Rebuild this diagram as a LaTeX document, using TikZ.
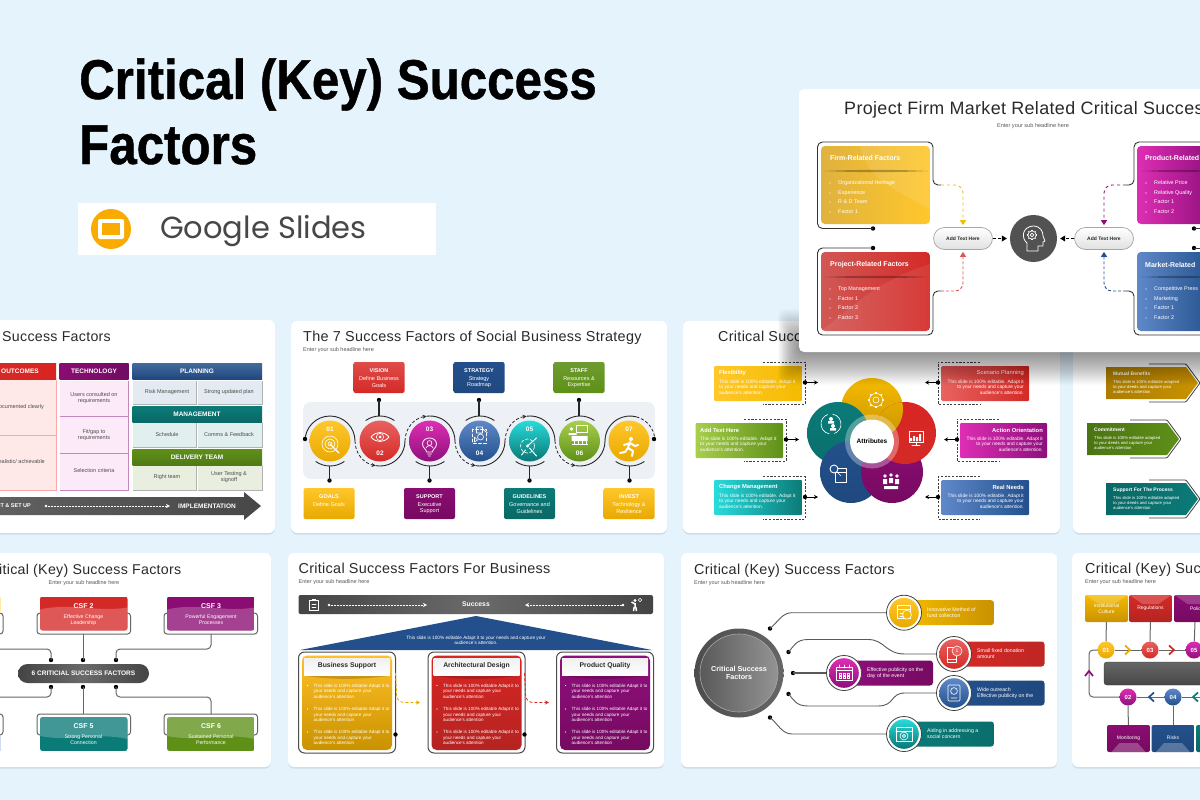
\documentclass[tikz,border=0pt]{standalone}
\usepackage{fontspec}
\setmainfont{Liberation Sans}
\newfontfamily\ttlfont[LetterSpace=2]{Liberation Sans}
\newfontfamily\hfont[FakeStretch=0.88,FakeBold=0.8]{Liberation Sans}
\newfontfamily\gfont{Poppins}
\usetikzlibrary{arrows.meta}
\newcounter{tc}
\definecolor{bgc}{HTML}{E4F3FC}
\definecolor{ink}{HTML}{2A2A2A}
\definecolor{edge}{HTML}{C9DCE8}
\definecolor{yelA}{HTML}{FFC72C}\definecolor{yelB}{HTML}{E8A900}
\definecolor{redA}{HTML}{E8625F}\definecolor{redB}{HTML}{D42A27}
\definecolor{magA}{HTML}{DE2EB4}\definecolor{magB}{HTML}{8E0F7C}
\definecolor{bluA}{HTML}{5F88C8}\definecolor{bluB}{HTML}{23508C}
\definecolor{cyaA}{HTML}{28DCDC}\definecolor{cyaB}{HTML}{0A7674}
\definecolor{grnA}{HTML}{A8CE4C}\definecolor{grnB}{HTML}{5E9018}
\definecolor{purp}{HTML}{8B0C72}
\definecolor{teal2}{HTML}{0B7B78}
\definecolor{gldA}{HTML}{F5BB00}\definecolor{gldB}{HTML}{C99200}
\definecolor{grA}{HTML}{6A6A6A}\definecolor{grB}{HTML}{444444}
\definecolor{gslide}{HTML}{F9AB00}
\definecolor{firmL}{HTML}{E0B23E}
\tikzset{
 wht/.style={text=white},
 lft/.style={anchor=west,align=left},
 rgt/.style={anchor=east,align=right},
 bas/.style={anchor=base west,align=left},
 drk/.style={text=ink},
 sub/.style={text=black!65},
 iconst/.style={draw=white,line width=.6pt,line cap=round,line join=round},
 outl/.style={draw=black!80,line width=.9pt,rounded corners=5pt},
 tip/.style={-{Triangle[length=5pt,width=6pt]}},
 smtip/.style={-{Stealth[length=4pt,width=4pt]}},
 pill/.style={rectangle,rounded corners=11pt,minimum width=59pt,minimum height=22pt,inner sep=0pt,top color=white,bottom color=black!12,draw=black!35,line width=.7pt,font=\fontsize{5}{6}\selectfont\bfseries,text=ink},
 disc/.style={circle,inner sep=0pt,minimum size=41pt},
 tag/.style={rectangle,rounded corners=2pt,inner sep=0pt},
 ringc/.style={circle,inner sep=0pt,minimum size=35pt,draw=black!75,line width=.8pt,fill=white},
 numd/.style={circle,inner sep=0pt,minimum size=17pt,text=white,font=\fontsize{6}{6}\selectfont\bfseries},
 conn/.style={draw=black!60,line width=1pt,rounded corners=4pt},
}
\newcommand{\tx}[5]{\stepcounter{tc}\node[inner sep=0pt,align=center,font=\linespread{1.18}\fontsize{#3}{#3}\selectfont,#4] (t\arabic{tc}) at (#1,#2) {#5};}
\newcommand{\bu}[5]{\fill[white] (#1,#2) circle (.7pt);\tx{#3}{#2}{#4}{wht,lft}{#5}}
\newcommand{\dotat}[3]{\coordinate (#1) at (#2,#3);\fill[black] (#1) circle (2.2pt);}
\newcommand{\card}[4]{\fill[edge,rounded corners=6pt] (#1,#2+1.5) rectangle (#3,#4+1.5);\fill[white,rounded corners=6pt] (#1,#2) rectangle (#3,#4);}
\newcommand{\gb}[7]{\path[rounded corners=#7pt,left color=#5,right color=#6] (#1,#2) rectangle (#3,#4);}
\newcommand{\gv}[7]{\path[rounded corners=#7pt,top color=#5,bottom color=#6] (#1,#2) rectangle (#3,#4);}
\newcommand{\ctitle}[4]{\tx{#1}{#2}{#3}{drk,bas}{\ttlfont #4}}
\newcommand{\subh}[2]{\tx{#1}{#2}{5.5}{sub,lft}{Enter your sub headline here}}
\newcommand{\cell}[6]{\fill[#5] (#1,#2) rectangle (#3,#4);\draw[#6,line width=.6pt] (#1,#4)--(#3,#4)--(#3,#2);}
\newcommand{\ictarget}[2]{\begin{scope}[shift={(#1,#2)}]\draw[iconst] (0,0) circle (8pt) (0,0) circle (5pt) (0,0) circle (2pt);\draw[iconst,line width=1.2pt] (0,0)--(9,9);\end{scope}}
\newcommand{\iceye}[2]{\begin{scope}[shift={(#1,#2)}]\draw[iconst,line width=.8pt] (-9,0) .. controls (-4,-6) and (4,-6) .. (9,0) .. controls (4,6) and (-4,6) .. (-9,0);\draw[iconst] (0,0) circle (3.6pt);\fill[white] (0,0) circle (1.5pt);\end{scope}}
\newcommand{\icbulb}[2]{\begin{scope}[shift={(#1,#2)}]\draw[iconst,line width=.8pt] (-3,6) .. controls (-3,3) and (-7,2) .. (-7,-2) .. controls (-7,-10) and (7,-10) .. (7,-2) .. controls (7,2) and (3,3) .. (3,6)--cycle;\draw[iconst] (0,-3) circle (2.4pt) (-3.5,2) .. controls (-3,-1) and (3,-1) .. (3.5,2) (-2,8)--(2,8) (-1,10)--(1,10);\end{scope}}
\newcommand{\icpuzzle}[2]{\begin{scope}[shift={(#1,#2)}]\draw[iconst,densely dashed] (-7,-7) rectangle (7,7);\draw[iconst] (-3,-9) rectangle (3,-3) (1,1) circle (3pt) (-5,1)--(-2,4)--(-5,6)--cycle (3,-7)--(8,-3);\end{scope}}
\newcommand{\icdart}[2]{\begin{scope}[shift={(#1,#2)}]\draw[iconst,densely dashed] (-2,-1) circle (7pt);\fill[white] (-2,-1) circle (1.6pt);\draw[iconst,line width=1pt] (-2,-1)--(7,-9) (0,1)--(7,9) (-4,3)--(-8,8);\end{scope}}
\newcommand{\icboard}[2]{\begin{scope}[shift={(#1,#2)}]\draw[iconst] (-3,-11) rectangle (8,-4);\fill[white] (-8,-7) circle (1.8pt) (-11,-3) rectangle (-3,-1) (-8,0) rectangle (8,5);\draw[white,line width=.8pt] (-5,5)--(-5,8) (-1,5)--(-1,8) (3,5)--(3,8) (7,5)--(7,8) (-8,8)--(8,8);\end{scope}}
\newcommand{\icrun}[2]{\begin{scope}[shift={(#1,#2)}]\fill[white] (2,-8) circle (2pt);\draw[white,line width=2pt,line cap=round,line join=round] (1,-5)--(-1,1)--(4,4)--(3,9) (-1,1)--(-4,5)--(-9,6) (1,-4)--(-5,-2) (1,-4)--(6,-1)--(9,-2);\end{scope}}
\newcommand{\icgear}[3]{\begin{scope}[shift={(#1,#2)},scale=#3]\foreach \a in {0,45,...,315}{\draw[white,line width=1.4pt] (\a:6.6)--(\a:8.2);}\draw[iconst] (0,0) circle (6.6pt) (0,0) circle (3pt);\end{scope}}
\newcommand{\penta}[5]{\draw[black!75,line width=.8pt,rounded corners=1pt] (#1+43,#2-3) -- (#1+80,#2-3) -- (#1+94,#2+16) -- (#1+80,#2+35) -- (#1+43,#2+35);
 \path[left color=#3,right color=#4] (#1,#2) -- (#1+80,#2) -- (#1+92,#2+16) -- (#1+80,#2+32) -- (#1,#2+32) -- cycle;
 \tx{#1+7}{#2+7}{5}{wht,lft}{\bfseries #5}
 \tx{#1+7}{#2+20}{4.2}{wht,lft}{This slide is 100\% editable adapted\\to your deeds and capture your\\audience's attention}}
\newcommand{\dleft}[6]{\draw[black!75,line width=.8pt,dashed,dash pattern=on 2.2pt off 1.5pt] (#1,#2) -- (#3,#2) -- (#3,#4) -- (#1,#4);\dotat{#5}{#3}{#6}}
\newcommand{\csfup}[3]{\draw[black!60,line width=1pt,rounded corners=3pt] (#1+3,613)--(#1-3,613)--(#1-3,634)--(#1+90.5,634)--(#1+90.5,613)--(#1+84.5,613);
 \begin{scope}\path[clip,rounded corners=2.5pt] (#1,#2) rectangle (#1+87.5,#2+34);\fill[#3] (#1,#2) rectangle (#1+87.5,#2+34);\fill[white,opacity=.22] (#1,#2+13) .. controls (#1+29,#2+6) and (#1+58,#2+16) .. (#1+87.5,#2+11) -- (#1+87.5,#2+34) -- (#1,#2+34) -- cycle;\end{scope}}
\newcommand{\csfdn}[3]{\draw[black!60,line width=1pt,rounded corners=3pt] (#1+3,735)--(#1-3,735)--(#1-3,714)--(#1+90.5,714)--(#1+90.5,735)--(#1+84.5,735);
 \begin{scope}\path[clip,rounded corners=2.5pt] (#1,#2) rectangle (#1+87.5,#2+34);\fill[#3] (#1,#2) rectangle (#1+87.5,#2+34);\fill[white,opacity=.22] (#1,#2+19) .. controls (#1+29,#2+25) and (#1+58,#2+15) .. (#1+87.5,#2+22) -- (#1+87.5,#2) -- (#1,#2) -- cycle;\end{scope}}
\newcommand{\bizbox}[4]{\draw[black!70,line width=1pt,rounded corners=6pt] (#1,652) rectangle (#1+97,753);
 \path[rounded corners=5pt,top color=#2,bottom color=#3] (#1+3.5,655.5) rectangle (#1+93.5,750);
 \fill[black,opacity=.18] (#1+5.5,675.5) .. controls (#1+30,680) and (#1+65,680) .. (#1+91.5,675.5) -- cycle;
 \path[top color=black!6,bottom color=white] (#1+5.5,658) rectangle (#1+91.5,675.5);
 \tx{#1+48.5}{666}{6.8}{drk}{\bfseries #4}
 \foreach \yy in {691,714.5,737.5}{\fill[white] (#1+9,\yy-5.5) circle (.7pt);\tx{#1+15}{\yy}{4.55}{wht,lft}{This slide is 100\% editable Adapt it to\\your needs and capture your\\audience's attention}}}
\newcommand{\citem}[9]{\path[rounded corners=3pt,left color=#7,right color=#8] (#2,#3-12.5) rectangle (#4,#3+12.5);
 \node[ringc] (#1) at (#2,#3) {};
 \shade[top color=#5,bottom color=#6] (#1.center) circle (14.8pt);
 \tx{#2+23}{#3}{5.2}{wht,lft}{#9}}
\begin{document}
\begin{tikzpicture}[x=1pt,y=-1pt,line cap=butt]
\useasboundingbox (0,0) rectangle (1200,800);
\fill[bgc] (0,0) rectangle (1200,800);
% ---- heading
\tx{79}{99}{56}{bas,text=black}{\hfont\bfseries Critical (Key) Success}
\tx{79}{164}{56}{bas,text=black}{\hfont\bfseries Factors}
\fill[white] (78,203) rectangle (436,255);
\fill[gslide] (111,229) circle (20pt);
\fill[white,rounded corners=2pt] (98,219) rectangle (124,239);
\fill[gslide] (102,223) rectangle (120,235);
\tx{160}{231}{30.5}{lft,text=black!72}{\gfont Google Slides}
% ---- CARD 1
\card{-10}{320}{275}{533}
\ctitle{2}{341}{14.2}{Success Factors}
\gb{-10}{363}{56}{379}{redB}{redB!85!red}{0}
\tx{20}{371}{6.5}{wht}{\bfseries OUTCOMES}
\cell{-10}{380}{56}{435}{red!9!white}{red!35!white}
\cell{-10}{436}{56}{490}{red!9!white}{red!35!white}
\tx{44}{407}{5.5}{rgt,text=black!70}{ocumented clearly}
\tx{45}{462}{5.5}{rgt,text=black!70}{ealistic/ achievable}
\gb{59.5}{363}{128.5}{379}{purp}{magB!80!black}{0}
\tx{94}{371}{6.5}{wht}{\bfseries TECHNOLOGY}
\cell{59.5}{381}{128.5}{416}{magA!10!white}{magB!50!white}
\cell{59.5}{417}{128.5}{453}{magA!10!white}{magB!50!white}
\cell{59.5}{454}{128.5}{490}{magA!10!white}{magB!50!white}
\tx{94}{398}{5.5}{text=black!70}{Users consulted on\\requirements}
\tx{94}{435}{5.5}{text=black!70}{Fit/gap to\\requirements}
\tx{94}{471}{5.5}{text=black!70}{Selection criteria}
\gv{132.5}{363}{262}{379}{bluB!85!white}{bluB!90!black}{0}
\tx{197}{371}{6.5}{wht}{\bfseries PLANNING}
\cell{132.5}{381}{196.5}{404}{bluB!12!white}{black!30}
\cell{197.5}{381}{262}{404}{bluB!12!white}{black!30}
\tx{167}{392}{5.5}{text=black!70}{Risk Management}
\tx{229}{392}{5.5}{text=black!70}{Strong updated plan}
\gv{132.5}{406}{262}{422}{teal2}{teal2!85!black}{0}
\tx{197}{414}{6.5}{wht}{\bfseries MANAGEMENT}
\cell{132.5}{423}{196.5}{447}{teal2!12!white}{black!30}
\cell{197.5}{423}{262}{447}{teal2!12!white}{black!30}
\tx{167}{434.5}{5.5}{text=black!70}{Schedule}
\tx{229}{434.5}{5.5}{text=black!70}{Comms \& Feedback}
\gv{132.5}{449}{262}{465}{grnB}{grnB!85!black}{0}
\tx{197}{457}{6.5}{wht}{\bfseries DELIVERY TEAM}
\cell{132.5}{466}{196.5}{490}{grnB!14!white}{black!30}
\cell{197.5}{466}{262}{490}{grnB!14!white}{black!30}
\tx{167}{477}{5.5}{text=black!70}{Right team}
\tx{229}{477}{5.5}{text=black!70}{User Testing \&\\signoff}
\path[left color=black!62,right color=black!72] (-10,497) -- (244,497) -- (244,492) -- (261,506) -- (244,520) -- (244,515) -- (-10,515) -- cycle;
\tx{31}{506}{5.5}{wht,rgt}{\bfseries NT \& SET UP}
\coordinate (a1s) at (46,506);\coordinate (a1e) at (170,506);
\fill[white] (a1s) circle (1.4pt);
\draw[white,densely dotted,line width=.5pt,smtip] (a1s) -- (a1e);
\tx{207}{506}{6.5}{wht}{\bfseries IMPLEMENTATION}
% ---- CARD 2
\card{291}{321}{667}{533}
\ctitle{303}{341}{14.4}{The 7 Success Factors of Social Business Strategy}
\subh{303}{350}
\fill[black!5!bluB!8!white,rounded corners=8pt] (303,402) rectangle (655,479);
\node[tag,minimum width=51pt,minimum height=31pt,top color=redA!60!redB,bottom color=redB] (bv) at (379,377.5) {};
\node[tag,minimum width=51pt,minimum height=31pt,top color=bluB,bottom color=bluB!90!black] (bs) at (479,377.5) {};
\node[tag,minimum width=51pt,minimum height=31pt,top color=grnB!90!white,bottom color=grnB] (bf) at (579,377.5) {};
\node[tag,minimum width=51pt,minimum height=31pt,top color=yelA,bottom color=yelB] (bg) at (329,503.5) {};
\node[tag,minimum width=51pt,minimum height=31pt,top color=purp,bottom color=purp!85!black] (bu) at (429.5,503.5) {};
\node[tag,minimum width=51pt,minimum height=31pt,top color=teal2,bottom color=teal2!85!black] (bl) at (529.5,503.5) {};
\node[tag,minimum width=51pt,minimum height=31pt,top color=yelA,bottom color=yelB] (bi) at (629,503.5) {};
\tx{379}{371}{5.5}{wht}{\bfseries VISION}\tx{379}{382}{5.5}{wht}{Define Business\\Goals}
\tx{479}{371}{5.5}{wht}{\bfseries STRATEGY}\tx{479}{382}{5.5}{wht}{Strategy\\Roadmap}
\tx{579}{371}{5.5}{wht}{\bfseries STAFF}\tx{579}{382}{5.5}{wht}{Resources \&\\Expertise}
\tx{329}{497}{5.5}{wht}{\bfseries GOALS}\tx{329}{505}{5.5}{wht}{Define Goals}
\tx{429.5}{497}{5.5}{wht}{\bfseries SUPPORT}\tx{429.5}{508}{5.5}{wht}{Executive\\Support}
\tx{529.5}{497}{5.5}{wht}{\bfseries GUIDELINES}\tx{529.5}{508}{5.5}{wht}{Governance and\\Guidelines}
\tx{629}{497}{5.5}{wht}{\bfseries INVEST}\tx{629}{508}{5.5}{wht}{Technology \&\\Resilience}
\draw[black!85,line width=.9pt] (330,441)+(180:25)arc[start angle=180,end angle=360,radius=25];
\draw[black!85,line width=.8pt,densely dashed,smtip] (380,441)+(180:25)arc[start angle=180,end angle=100,radius=25];
\draw[black!85,line width=.9pt] (380,441)+(100:25)arc[start angle=100,end angle=0,radius=25];
\draw[black!85,line width=.8pt,densely dashed,smtip] (430,441)+(180:25)arc[start angle=180,end angle=262,radius=25];
\draw[black!85,line width=.9pt] (430,441)+(262:25)arc[start angle=262,end angle=360,radius=25];
\draw[black!85,line width=.8pt,densely dashed,smtip] (480,441)+(180:25)arc[start angle=180,end angle=100,radius=25];
\draw[black!85,line width=.9pt] (480,441)+(100:25)arc[start angle=100,end angle=0,radius=25];
\draw[black!85,line width=.8pt,densely dashed,smtip] (530,441)+(180:25)arc[start angle=180,end angle=262,radius=25];
\draw[black!85,line width=.9pt] (530,441)+(262:25)arc[start angle=262,end angle=360,radius=25];
\draw[black!85,line width=.8pt,densely dashed,smtip] (580,441)+(180:25)arc[start angle=180,end angle=100,radius=25];
\draw[black!85,line width=.9pt] (580,441)+(100:25)arc[start angle=100,end angle=0,radius=25];
\draw[black!85,line width=.9pt] (630,441)+(180:25)arc[start angle=180,end angle=285,radius=25];
\draw[black!85,line width=.8pt,densely dashed] (630,441)+(285:25)arc[start angle=285,end angle=360,radius=25];
\dotat{wl}{305}{439}\dotat{wr}{654}{439}
\node[disc,top color=yelA,bottom color=yelB] (c1) at (330,441) {};
\node[disc,top color=redA,bottom color=redB] (c2) at (380,441) {};
\node[disc,top color=magA,bottom color=magB] (c3) at (429.5,441) {};
\node[disc,top color=bluA,bottom color=bluB] (c4) at (479.5,441) {};
\node[disc,top color=cyaA,bottom color=cyaB] (c5) at (529.5,441) {};
\node[disc,top color=grnA,bottom color=grnB] (c6) at (579.5,441) {};
\node[disc,top color=yelA,bottom color=yelB] (c7) at (629,441) {};
\foreach \cx/\lab in {330/01,429.5/03,529.5/05,629/07}{\tx{\cx}{429}{6.5}{wht}{\bfseries\lab}}
\foreach \cx/\lab in {380/02,479.5/04,579.5/06}{\tx{\cx}{453}{6.5}{wht}{\bfseries\lab}}
\ictarget{330}{444}\iceye{380}{437}\icbulb{429.5}{446}\icpuzzle{479.5}{436}\icdart{529.5}{447}\icboard{579.5}{436}\icrun{629}{447}
\foreach \cx/\nm in {380/p2,480/p4,580/p6}{
 \draw[black!85,line width=.9pt] (\cx,441)+(235:25)arc[start angle=235,end angle=305,radius=25];
 \dotat{\nm}{\cx-1}{400}
 \coordinate (\nm e) at (\cx-1,416);
 \draw[black!85,line width=1.2pt] (\nm) -- (\nm e);}
\foreach \cx/\nm in {330/p1,430/p3,530/p5,630/p7}{
 \draw[black!85,line width=.9pt] (\cx,441)+(55:25)arc[start angle=55,end angle=125,radius=25];
 \dotat{\nm}{\cx-.5}{480.5}
 \coordinate (\nm e) at (\cx-.5,466);
 \draw[black!85,line width=1.2pt] (\nm) -- (\nm e);}
% ---- CARD 3
\card{683}{321}{1060}{533}
\ctitle{718}{341}{14.4}{Critical Succ}
\dleft{763}{362}{805}{404}{fa}{382.5}\gb{714}{366}{802}{401}{yelA}{gldA}{1}
\dleft{744}{419}{786}{461}{fb}{439.5}\gb{695.5}{423}{783}{458}{grnA}{grnB}{1}
\dleft{763}{476.5}{805}{519}{fc}{497}\gb{714}{480}{802}{515}{cyaA}{teal2}{1}
\dleft{980}{362}{938}{404}{fd}{382.5}\gb{941.5}{366}{1029}{401}{redA}{redB}{1}
\dleft{999}{419}{957}{461}{fe}{439.5}\gb{960}{423}{1047}{458}{magA}{magB}{1}
\dleft{980}{476.5}{938}{519}{ff}{497}\gb{941.5}{480}{1029}{515}{bluA}{bluB}{1}
\foreach \n/\xx/\yy in {fa/818/382.5,fb/799/439.5,fc/818/497,fd/925/382.5,fe/944/439.5,ff/925/497}{
 \coordinate (\n e) at (\xx,\yy);\draw[black,line width=.9pt,smtip] (\n) -- (\n e);}
\tx{719}{373}{5.8}{wht,lft}{\bfseries Flexibility}
\tx{719}{387}{4.8}{wht,lft}{This slide is 100\% editable. Adapt it\\to your needs and capture your\\audience's attention.}
\tx{700}{430}{5.8}{wht,lft}{\bfseries Add Text Here}
\tx{700}{444}{4.8}{wht,lft}{This slide is 100\% editable. Adapt it\\to your needs and capture your\\audience's attention.}
\tx{719}{487}{5.8}{wht,lft}{\bfseries Change Management}
\tx{719}{501}{4.8}{wht,lft}{This slide is 100\% editable. Adapt it\\to your needs and capture your\\audience's attention.}
\tx{1024}{373}{5.8}{wht,rgt}{Scenario Planning}
\tx{1024}{387}{4.8}{wht,rgt}{This slide is 100\% editable. Adapt it\\to your needs and capture your\\audience's attention.}
\tx{1043}{430}{5.8}{wht,rgt}{\bfseries Action Orientation}
\tx{1043}{444}{4.8}{wht,rgt}{This slide is 100\% editable. Adapt it\\to your needs and capture your\\audience's attention.}
\tx{1024}{487}{5.8}{wht,rgt}{\bfseries Real Needs}
\tx{1024}{501}{4.8}{wht,rgt}{This slide is 100\% editable. Adapt it\\to your needs and capture your\\audience's attention.}
\shade[top color=gldA,bottom color=gldB] (872,409) circle (31pt);
\shade[top color=teal2,bottom color=teal2!90!black] (838,433) circle (31pt);
\shade[top color=bluB,bottom color=bluB!90!black] (851,472) circle (31pt);
\shade[top color=purp,bottom color=purp!85!black] (892,472) circle (31pt);
\shade[top color=redB!90!red,bottom color=redB] (905,433) circle (31pt);
\begin{scope}\clip (905,433) circle (31pt);\shade[top color=gldA,bottom color=gldB] (872,409) circle (31pt);\end{scope}
\draw[white,opacity=.3,line width=5pt] (872,441.5) circle (24.5pt);
\fill[white] (872,441.5) circle (22pt);
\tx{872}{441.5}{6.5}{text=black}{\bfseries Attributes}
\icgear{876}{400}{1}
\begin{scope}[shift={(916,437)}]\draw[iconst] (-7,-6) rectangle (7,5);\fill[white] (-6,4) rectangle (-4,1) (-3,4) rectangle (-1,-1) (0,4) rectangle (2,0) (3,4) rectangle (5,-3);\draw[iconst] (0,5)--(0,8) (-4,8)--(4,8);\end{scope}
\begin{scope}[shift={(891,482)}]\fill[white] (-6,-6) circle (1.8pt) (0,-7) circle (1.8pt) (6,-6) circle (1.8pt) (-8,-3) rectangle (-4,2) (-2,-4) rectangle (2,1) (4,-3) rectangle (8,2) (-7,4) rectangle (7,7);\end{scope}
\begin{scope}[shift={(838,474)}]\draw[iconst] (-3,-6) rectangle (8,8) (-3,-2)--(8,-2);\draw[iconst,line width=.9pt,fill=bluB] (-4,-5) circle (4pt);\draw[iconst] (-1,-2)--(3,2);\end{scope}
\begin{scope}[shift={(831,424)}]\fill[white] (0,-5) circle (2pt) (-3,-3) rectangle (3,-0.5) (2,2) circle (2pt) (-1,4) rectangle (5,6.5);\draw[iconst] (0,0)+(100:10) arc[start angle=100,end angle=250,radius=10];\draw[iconst] (0,0)+(280:10) arc[start angle=280,end angle=430,radius=10];\end{scope}
% ---- CARD 4
\card{1073}{321}{1215}{533}
\penta{1106}{367}{gldB!85!black}{gldB}{Mutual Benefits}
\penta{1087}{423}{grnB!80!black}{grnB}{Commitment}
\penta{1106}{483}{teal2!85!black}{teal2}{Support For The Process}
% ---- CARD 5
\card{-10}{553}{271}{767}
\ctitle{-1}{574}{14.2}{itical (Key) Success Factors}
\tx{84}{583}{5.5}{sub}{Enter your sub headline here}
\draw[black!60,line width=1pt,rounded corners=3pt] (-3,613)--(3,613)--(3,634)--(-3,634);
\fill[yelA!40!white] (-2,597) rectangle (1,612.5);
\fill[bluA!30!white] (-2,735.5) rectangle (1,751);
\draw[black!60,line width=1pt,rounded corners=3pt] (-3,714)--(3,714)--(3,735)--(-3,735);
\csfup{40}{596.5}{redB}\csfup{167}{596.5}{purp}
\csfdn{40}{717}{teal2}\csfdn{167}{717}{grnB}
\node[rectangle,rounded corners=9.5pt,minimum width=131pt,minimum height=19pt,inner sep=0pt,left color=grB,right color=grB,middle color=grA,font=\fontsize{6.5}{7}\selectfont\bfseries,text=white] (hub5) at (83.5,673.5) {6 CRITICIAL SUCCESS FACTORS};
\foreach \cx/\cy/\tt/\ll in {83.5/606/CSF 2/Effective Change\\Leadership,211/606/CSF 3/Powerful Engagement\\Processes,83.5/726/CSF 5/Strong Personal\\Connection,211/726/CSF 6/Sustained Personal\\Performance}{
 \tx{\cx}{\cy}{7}{wht}{\bfseries\tt}\tx{\cx}{\cy+14}{5.2}{wht}{\ll}}
\dotat{d1}{51}{660}\dotat{d2}{83}{660}\dotat{d3}{116}{660}\dotat{d4}{51}{687}\dotat{d5}{83}{687}\dotat{d6}{116}{687}
\coordinate (o1) at (-3,649);\coordinate (o2) at (83,634);\coordinate (o3) at (211,634);\coordinate (o4) at (-3,697);\coordinate (o5) at (83,714);\coordinate (o6) at (211,714);
\draw[conn] (o1) -- (51,649) -- (d1);
\draw[conn] (o2) -- (d2);
\draw[conn] (o3) -- (211,649) -- (116,649) -- (d3);
\draw[conn] (o4) -- (51,697) -- (d4);
\draw[conn] (o5) -- (d5);
\draw[conn] (o6) -- (211,697) -- (116,697) -- (d6);
% ---- CARD 6
\card{288}{553}{664}{767}
\ctitle{298.5}{573}{14.4}{Critical Success Factors For Business}
\subh{298.5}{582}
\path[rounded corners=2pt,left color=grB,right color=grB,middle color=grA] (298.5,595) rectangle (653,614);
\tx{476}{604.5}{6.8}{wht}{\bfseries Success}
\coordinate (s1) at (329,605);\coordinate (s2) at (427,605);\coordinate (s3) at (623,605);\coordinate (s4) at (525,605);
\fill[white] (s1) circle (1.4pt) (s3) circle (1.4pt);
\draw[white,densely dotted,line width=.5pt,smtip] (s1) -- (s2);
\draw[white,densely dotted,line width=.5pt,smtip] (s3) -- (s4);
\begin{scope}[shift={(314,605)}]\draw[iconst] (-4.5,-4.5) rectangle (4.5,5.5) (-2,-.5)--(2,-.5) (-2,2)--(2,2);\fill[white] (-2,-6) rectangle (2,-4);\end{scope}
\begin{scope}[shift={(635,605)}]\fill[white] (0,-4.5) circle (1.6pt);\draw[white,line width=1.5pt] (0,-2)--(0,2) (-.8,2)--(-1.5,6) (.8,2)--(1.5,6) (0,-1)--(-3.5,-3);\draw[iconst] (5,-5) circle (1.7pt);\end{scope}
\path[fill=bluB] (476,616) -- (652,650) -- (300,650) -- cycle;
\tx{476}{640.5}{4.7}{wht}{This slide is 100\% editable Adapt it to your needs and capture your\\audience's attention.}
\bizbox{298.5}{yelA!90!orange}{gldB}{Business Support}
\bizbox{428}{redB!90!red}{redB!85!black}{Architectural Design}
\bizbox{556.5}{magB}{purp!85!black}{Product Quality}
\dotat{bd1}{395.5}{734.5}\dotat{bd2}{524.5}{734.5}
\coordinate (be1) at (395.5,673);\coordinate (ba1) at (420,702.5);\coordinate (be2) at (524.5,673);\coordinate (ba2) at (549,702.5);
\draw[yelB,densely dashed,line width=.8pt,rounded corners=7pt,smtip] (be1) -- (397,702.5) -- (ba1);
\draw[redB,densely dashed,line width=.8pt,rounded corners=7pt,smtip] (be2) -- (526,702.5) -- (ba2);
% ---- CARD 7
\card{681}{553}{1057}{767}
\ctitle{694}{574}{14.4}{Critical (Key) Success Factors}
\subh{694}{583}
\node[circle,inner sep=0pt,minimum size=89pt,left color=black!70,right color=black!60] (big) at (739,673) {};
\path[draw=white!65!black,line width=.6pt,left color=black!65,right color=black!42] (big.center) circle (39pt);
\tx{739}{673}{7.2}{wht}{\bfseries Critical Success\\\bfseries Factors}
\citem{i1}{904}{612.7}{994}{yelA}{yelB}{gldA}{gldB}{Innovative Method of\\fund collection}
\citem{i2}{954}{654}{1044.5}{redA}{redB}{redB}{redB!90!black}{Small fixed donation\\amount}
\citem{i3}{844}{673}{933}{magA}{magB}{magB}{purp!85!black}{Effective publicity on the\\day of the event}
\citem{i4}{954}{693}{1044.5}{bluA}{bluB}{bluB}{bluB!90!black}{Wide outreach\\Effective publicity on the}
\citem{i5}{904}{734}{994}{cyaA}{cyaB}{teal2}{teal2!90!black}{Aiding in addressing a\\social concern}
\dotat{l1}{770}{628.5}\dotat{l2}{788.5}{652}\dotat{l3}{793}{673}\dotat{l4}{788.5}{694}\dotat{l5}{770}{717.5}
\draw[black!65,line width=.9pt] (l1) .. controls (778,622) and (782,612.7) .. (792,612.7) -- (i1.west);
\draw[black!65,line width=.9pt] (l2) .. controls (794,646) and (796,639.5) .. (808,639.5) -- (868,639.5) .. controls (885,639.5) and (885,654) .. (905,654) -- (i2.west);
\draw[black!65,line width=1.4pt] (l3) -- (i3.west);
\draw[black!65,line width=.9pt] (l4) .. controls (794,700) and (796,706) .. (808,706) -- (878,706) .. controls (895,706) and (890,693) .. (905,693) -- (i4.west);
\draw[black!65,line width=.9pt] (l5) .. controls (778,724) and (782,734) .. (792,734) -- (i5.west);
\begin{scope}[shift={(904,612.7)}]\draw[iconst] (-7,-7) rectangle (6,6) (-7,-3)--(6,-3);\draw[iconst,fill=gldA] (3,2) circle (4.5pt);\draw[iconst] (-4,1)--(-1,1) (-4,4)--(-1,4);\end{scope}
\begin{scope}[shift={(954,654)}]\draw[iconst] (-7,-7) rectangle (2,8) (-7,5)--(2,5);\draw[iconst,fill=redA] (3,-3) circle (5pt);\tx{3}{-3}{5}{wht}{1}\end{scope}
\begin{scope}[shift={(844,673)}]\draw[iconst] (-8,-6) rectangle (8,7) (-8,-3)--(8,-3);\foreach \px in {-5,-1,3}{\foreach \py in {0,3.5}{\draw[iconst] (\px,\py) rectangle (\px+2,\py+2);}}\foreach \px in {-5,0,5}{\draw[iconst] (\px,-8)--(\px,-5);}\end{scope}
\begin{scope}[shift={(954,693)}]\draw[iconst,rounded corners=1pt] (-6,-8) rectangle (6,8);\draw[iconst] (0,-2) circle (3.4pt) (-3,5)--(3,5);\end{scope}
\begin{scope}[shift={(904,734)}]\draw[iconst] (-8,-7) rectangle (8,7) (-8,-3)--(8,-3);\draw[iconst] (0,2) circle (4pt) (0,2) circle (1.6pt);\end{scope}
% ---- CARD 8
\card{1072}{553}{1215}{767}
\ctitle{1085}{573}{14.4}{Critical (Key) Suc}
\subh{1085}{582}
\newcommand{\tbox}[5]{\node[tag,minimum width=43pt,minimum height=27pt,top color=#3,bottom color=#4] (#1) at (#2,608.5) {};
 \fill[white,opacity=.2] (#2-21,595) -- (#2+21,595) -- (#2+8,604) -- (#2-8,604) -- cycle;
 \tx{#2}{608.5}{5}{wht}{#5}}
\newcommand{\dbox}[5]{\node[tag,minimum width=43pt,minimum height=27pt,top color=#3,bottom color=#4] (#1) at (#2,738.5) {};
 \fill[white,opacity=.25] (#2-17,752) -- (#2+17,752) -- (#2+9,743) -- (#2-9,743) -- cycle;
 \tx{#2}{738}{5}{wht}{#5}}
\tbox{tb1}{1106.5}{gldA}{gldB}{Institutional\\Culture}
\tbox{tb2}{1150.5}{redB}{redB!85!black}{Regulations}
\tbox{tb3}{1195.5}{purp}{purp!85!black}{Polic}
\dbox{db1}{1128.5}{purp}{purp!85!black}{Monitoring}
\dbox{db2}{1173}{bluB}{bluB!90!black}{Risks}
\dbox{db3}{1217.5}{teal2}{teal2!85!black}{}
\path[rounded corners=3pt,top color=black!60,bottom color=black!72,draw=black!80,line width=.4pt] (1104,662) rectangle (1215,685);
\node[numd,top color=yelA,bottom color=yelB] (n1) at (1106,650) {01};
\node[numd,top color=redA,bottom color=redB] (n3) at (1150,650) {03};
\node[numd,top color=magA,bottom color=magB] (n5) at (1194,650) {05};
\node[numd,top color=magA,bottom color=magB] (n2) at (1128,697) {02};
\node[numd,top color=bluA,bottom color=bluB] (n4) at (1173,697) {04};
\coordinate (te) at (1210,697);\coordinate (tw) at (1210,650);
\draw[conn] (tb1) -- (n1);\draw[conn] (tb2) -- (n3);\draw[conn] (tb3) -- (n5);
\draw[conn] (db1) -- (n2);\draw[conn] (db2) -- (n4);
\draw[conn] (n5) -- (n3);\draw[conn] (n3) -- (n1);
\draw[conn] (n1) -- (1089,650) -- (1089,697) -- (n2);
\draw[conn] (n2) -- (n4);\draw[conn] (n4) -- (te);\draw[conn] (n5) -- (tw);
\draw[yelB,line width=1.7pt] (1125,645.5)--(1130,650)--(1125,654.5);
\draw[redB,line width=1.7pt] (1169,645.5)--(1174,650)--(1169,654.5);
\draw[bluB,line width=1.7pt] (1154,692.5)--(1149,697)--(1154,701.5);
\draw[teal2,line width=1.7pt] (1198,692.5)--(1193,697)--(1198,701.5);
\draw[purp,line width=1.7pt] (1085,676)--(1089,671)--(1093,676);
% ---- FRONT SLIDE
\foreach \i in {1,...,30}{\fill[black,opacity=.015,rounded corners=8pt] (799-.7*\i,345-1.2*\i) rectangle (1230,352+1.1*\i);}
\fill[white,rounded corners=5pt] (799,89) rectangle (1230,352);
\tx{844}{114}{17.9}{drk,bas}{\ttlfont Project Firm Market Related Critical Succes}
\tx{1033}{126}{5.6}{sub}{Enter your sub headline here}
\dotat{fd1}{873}{228.5}\dotat{fd2}{873}{248}\dotat{fd3}{1194}{228.5}\dotat{fd4}{1194}{248}
\coordinate (fo1) at (933,185);\coordinate (fo2) at (933,291);\coordinate (fo3) at (1134,185);\coordinate (fo4) at (1134,291);
\draw[outl] (fd1) -- (817.5,228.5) -- (817.5,142) -- (933,142) -- (fo1) -- (941,185);
\draw[outl] (fd2) -- (817.5,248) -- (817.5,335) -- (933,335) -- (fo2) -- (941,291);
\draw[outl] (fd3) -- (1215,228.5);
\draw[outl] (1215,142) -- (1134,142) -- (fo3) -- (1126,185);
\draw[outl] (1215,335) -- (1134,335) -- (fo4) -- (1126,291);
\draw[outl] (fd4) -- (1215,248);
\begin{scope}\path[clip,rounded corners=4pt] (821,146) rectangle (930,224);\path[left color=firmL,right color=yelA] (821,146) rectangle (930,224);\fill[white,opacity=.1] (860,146) .. controls (870,185) and (900,190) .. (930,210) -- (930,146) -- cycle;\end{scope}
\begin{scope}\path[clip,rounded corners=4pt] (821,252) rectangle (930,331);\path[left color=redA!90!black,right color=redB] (821,252) rectangle (930,331);\fill[white,opacity=.08] (821,331) .. controls (860,300) and (880,280) .. (930,264) -- (930,331) -- cycle;\end{scope}
\begin{scope}\path[clip,rounded corners=4pt] (1137,146) rectangle (1215,224);\path[left color=magA,right color=magB] (1137,146) rectangle (1215,224);\end{scope}
\begin{scope}\path[clip,rounded corners=4pt] (1137,252) rectangle (1215,331);\path[left color=bluA,right color=bluB] (1137,252) rectangle (1215,331);\end{scope}
\foreach \xa/\xb/\yy in {824/928/171,824/928/277,1141/1215/171,1141/1215/277}{\fill[black,opacity=.28] (\xa,\yy) .. controls (\xa+30,\yy-1.5) and (\xb-30,\yy-1.5) .. (\xb,\yy) .. controls (\xb-30,\yy+1.5) and (\xa+30,\yy+1.5) .. (\xa,\yy);}
\tx{830}{158}{7}{wht,lft}{\bfseries Firm-Related Factors}
\tx{830}{265}{7}{wht,lft}{\bfseries Project-Related Factors}
\tx{1145}{158}{7}{wht,lft}{\bfseries Product-Related}
\tx{1145}{265}{7}{wht,lft}{\bfseries Market-Related}
\bu{830}{183}{838}{5.4}{Organizational Heritage}\bu{830}{193}{838}{5.4}{Experience}\bu{830}{202}{838}{5.4}{R \& D Team}\bu{830}{212}{838}{5.4}{Factor 1}
\bu{830}{289}{838}{5.4}{Top Management}\bu{830}{299}{838}{5.4}{Factor 1}\bu{830}{308}{838}{5.4}{Factor 2}\bu{830}{318}{838}{5.4}{Factor 3}
\bu{1146}{183}{1154}{5.4}{Relative Price}\bu{1146}{193}{1154}{5.4}{Relative Quality}\bu{1146}{202}{1154}{5.4}{Factor 1}\bu{1146}{212}{1154}{5.4}{Factor 2}
\bu{1146}{289}{1154}{5.4}{Competitive Press}\bu{1146}{299}{1154}{5.4}{Marketing}\bu{1146}{308}{1154}{5.4}{Factor 1}\bu{1146}{318}{1154}{5.4}{Factor 2}
\node[pill] (pl) at (963,238.5) {Add Text Here};
\node[pill] (pr) at (1104,238.5) {Add Text Here};
\node[circle,inner sep=0pt,minimum size=47pt,fill=black!68] (fhub) at (1033.5,238.5) {};
\draw[iconst,line width=.8pt] (1027,251) -- (1027,243) .. controls (1021,238) and (1022,227) .. (1033,226) .. controls (1041,226) and (1043,232) .. (1043,236) -- (1045,241) -- (1043,242) -- (1043,246) -- (1038,246) -- (1038,251) -- cycle;
\icgear{1032}{235}{.62}
\draw[black,densely dashed,line width=.7pt,tip,shorten >=3pt] (pl.east) -- (fhub.west);
\draw[black,densely dashed,line width=.7pt,tip,shorten >=3pt] (pr.west) -- (fhub.east);
\draw[gldA,dashed,line width=.9pt,rounded corners=8pt,tip,shorten >=2pt] (941,185) -- (963,185) -- (pl.north);
\draw[redB!80!white,densely dashed,line width=.9pt,rounded corners=8pt,tip,shorten >=2pt] (941,291) -- (963,291) -- (pl.south);
\draw[purp,dashed,line width=.9pt,rounded corners=8pt,tip,shorten >=2pt] (1126,185) -- (1104,185) -- (pr.north);
\draw[bluB,densely dashed,line width=.9pt,rounded corners=8pt,tip,shorten >=2pt] (1126,291) -- (1104,291) -- (pr.south);
\end{tikzpicture}
\end{document}
